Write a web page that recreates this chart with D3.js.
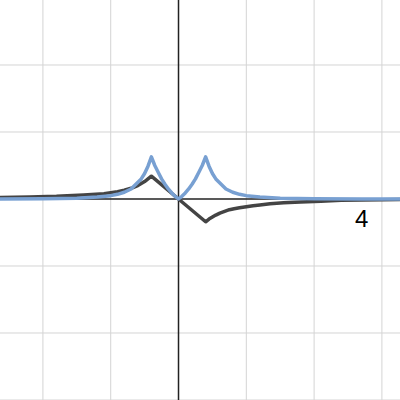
<!DOCTYPE html><html><head><script src="https://cdn.jsdelivr.net/npm/d3@7"></script>
<style>body{margin:0}svg{display:block}</style></head><body><svg id="c" width="400" height="400"></svg><script>
const blackX=[-2.7,-2.2,-1.8,-1.4,-1.1,-0.9,-0.8,-0.7,-0.6,-0.5,-0.45,-0.4,0,0.4,0.45,0.5,0.55,0.61,0.68,0.75,0.82,0.9,1.0,1.1,1.2,1.35,1.55,1.8,2.1,2.4,3.0,3.4];
const blackY=[0.02,0.03,0.04,0.06,0.08,0.11,0.13,0.16,0.2,0.26,0.3,0.34,0,-0.34,-0.3,-0.27,-0.24,-0.21,-0.185,-0.16,-0.145,-0.13,-0.115,-0.1,-0.088,-0.07,-0.055,-0.045,-0.032,-0.02,-0.01,-0.008];
const blueX=[-2.7,-2.0,-1.5,-1.2,-1.0,-0.9,-0.8,-0.7,-0.61,-0.55,-0.5,-0.45,-0.4,-0.35,-0.3,-0.25,-0.2,-0.15,-0.1,-0.05,0,0.05,0.1,0.15,0.2,0.25,0.3,0.35,0.4,0.45,0.5,0.55,0.61,0.7,0.8,0.9,1.0,1.2,1.5,2.0,2.7,3.4];
const blueY=[0,0.002,0.01,0.03,0.05,0.07,0.1,0.15,0.24,0.3,0.38,0.49,0.63,0.5,0.4,0.3,0.22,0.15,0.09,0.04,0,0.04,0.09,0.15,0.22,0.3,0.4,0.5,0.63,0.49,0.38,0.3,0.24,0.15,0.1,0.07,0.05,0.03,0.01,0.002,0,0];
const gridX=[-2,-1,1,2,3],gridY=[-3,-2,-1,1,2,3];
const labels=[{t:"4",x:2.7,y:-0.33}];
const svg=d3.select("#c");
const x=d3.scaleLinear().domain([-2.633,3.267]).range([0,400]);
const y=d3.scaleLinear().domain([2.97,-3.0]).range([0,400]);
svg.append("rect").attr("width",400).attr("height",400).attr("fill","#fff");
svg.selectAll(".gx").data(gridX).join("line").attr("x1",d=>x(d)).attr("x2",d=>x(d)).attr("y1",0).attr("y2",400).attr("stroke","#d4d4d4").attr("stroke-width",1);
svg.selectAll(".gy").data(gridY).join("line").attr("y1",d=>y(d)).attr("y2",d=>y(d)).attr("x1",0).attr("x2",400).attr("stroke","#d4d4d4").attr("stroke-width",1);
svg.append("line").attr("x1",x(0)).attr("x2",x(0)).attr("y1",0).attr("y2",400).attr("stroke","#222").attr("stroke-width",1.5);
svg.append("line").attr("y1",y(0)).attr("y2",y(0)).attr("x1",0).attr("x2",400).attr("stroke","#222").attr("stroke-width",1.5);
const line=d3.line().curve(d3.curveLinear);
svg.append("path").attr("d",line(blackX.map((v,i)=>[x(v),y(blackY[i])]))).attr("fill","none").attr("stroke","#444").attr("stroke-width",3.5).attr("stroke-linejoin","round");
svg.append("path").attr("d",line(blueX.map((v,i)=>[x(v),y(blueY[i])]))).attr("fill","none").attr("stroke","#78a0d2").attr("stroke-width",3.5).attr("stroke-linejoin","round");
svg.selectAll(".lb").data(labels).join("text").attr("x",d=>x(d.x)).attr("y",d=>y(d.y)).attr("font-family","Arial, Liberation Sans, sans-serif").attr("font-size",24).attr("text-anchor","middle").attr("dominant-baseline","middle").text(d=>d.t);
</script></body></html>
